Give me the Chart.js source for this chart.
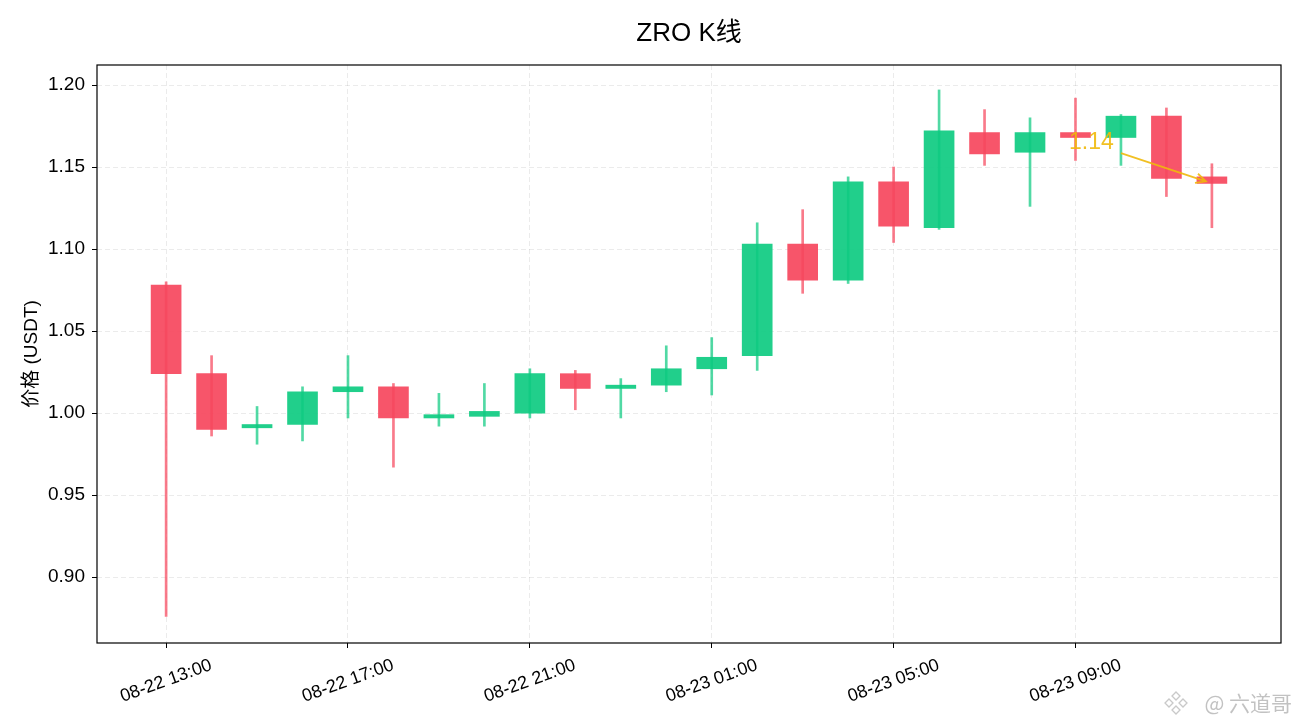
<!DOCTYPE html>
<html>
<head>
<meta charset="utf-8">
<script src="https://cdn.jsdelivr.net/npm/chart.js@4.4.0/dist/chart.umd.min.js"></script>
<style>
  html, body { margin: 0; padding: 0; background: #fff; }
  #myCanvas { display: block; }
</style>
</head>
<body>
<canvas id="myCanvas" width="1300" height="728"></canvas>
<script>
// hourly candles, 08-22 13:00 .. 08-23 12:00
const times = [
    '08-22 13:00', '08-22 14:00', '08-22 15:00', '08-22 16:00', '08-22 17:00', '08-22 18:00',
    '08-22 19:00', '08-22 20:00', '08-22 21:00', '08-22 22:00', '08-22 23:00', '08-23 00:00',
    '08-23 01:00', '08-23 02:00', '08-23 03:00', '08-23 04:00', '08-23 05:00', '08-23 06:00',
    '08-23 07:00', '08-23 08:00', '08-23 09:00', '08-23 10:00', '08-23 11:00', '08-23 12:00'
];
const opens  = [1.078, 1.024, 0.991, 0.993, 1.013, 1.016, 0.997, 0.998, 1.000, 1.024, 1.015, 1.017,
                1.027, 1.035, 1.103, 1.081, 1.141, 1.113, 1.171, 1.159, 1.171, 1.168, 1.181, 1.144];
const closes = [1.024, 0.990, 0.993, 1.013, 1.016, 0.997, 0.999, 1.001, 1.024, 1.015, 1.017, 1.027,
                1.034, 1.103, 1.081, 1.141, 1.114, 1.172, 1.158, 1.171, 1.168, 1.181, 1.143, 1.140];
const highs  = [1.080, 1.035, 1.004, 1.016, 1.035, 1.018, 1.012, 1.018, 1.027, 1.026, 1.021, 1.041,
                1.046, 1.116, 1.124, 1.144, 1.150, 1.197, 1.185, 1.180, 1.192, 1.182, 1.186, 1.152];
const lows   = [0.876, 0.986, 0.981, 0.983, 0.997, 0.967, 0.992, 0.992, 0.997, 1.002, 0.997, 1.013,
                1.011, 1.026, 1.073, 1.079, 1.104, 1.112, 1.151, 1.126, 1.154, 1.151, 1.132, 1.113];

const xTicks = [0, 4, 8, 12, 16, 20];
const yTicks = [0.90, 0.95, 1.00, 1.05, 1.10, 1.15, 1.20];

const chartTitle = 'ZRO K线';
const yTitle = '价格 (USDT)';
const noteText = '1.14';
const watermark = '@ 六道哥';

const UP = 'rgba(14, 203, 129, 0.92)';
const DOWN = 'rgba(246, 70, 93, 0.92)';
const UP_WICK = 'rgba(14, 203, 129, 0.72)';
const DOWN_WICK = 'rgba(246, 70, 93, 0.72)';
const NOTE = '#F0B90B';
const FONT = '"Liberation Sans", Arial, "Noto Sans CJK SC", sans-serif';

const bodies = times.map((t, i) => ({ x: i, y: [opens[i], closes[i]] }));
const wicks = times.map((t, i) => ({ x: i, y: [lows[i], highs[i]] }));
const isUp = i => closes[i] >= opens[i];

const framePlugin = {
    id: 'frame',
    afterDraw(chart) {
        const ctx = chart.ctx;
        const a = chart.chartArea;
        const xs = chart.scales.x;
        const ys = chart.scales.y;
        ctx.save();

        // box around the plot
        ctx.strokeStyle = '#000';
        ctx.lineWidth = 1.2;
        ctx.strokeRect(a.left, a.top, a.right - a.left, a.bottom - a.top);

        // title
        ctx.fillStyle = '#000';
        ctx.font = '26px ' + FONT;
        ctx.textAlign = 'center';
        ctx.textBaseline = 'middle';
        ctx.fillText(chartTitle, (a.left + a.right) / 2, 34);

        // rotated x tick labels, centred on the ticks
        ctx.font = '18px ' + FONT;
        xTicks.forEach(v => {
            const px = xs.getPixelForValue(v);
            ctx.save();
            ctx.translate(px, a.bottom + 38);
            ctx.rotate(-20 * Math.PI / 180);
            ctx.fillText(times[v], 0, 0);
            ctx.restore();
        });

        // last price note with arrow
        const last = closes.length - 1;
        const tx = xs.getPixelForValue(20.35);
        const ty = ys.getPixelForValue(1.1646);
        ctx.globalAlpha = 0.9;
        ctx.fillStyle = NOTE;
        ctx.font = '23px ' + FONT;
        ctx.fillText(noteText, tx, ty);
        const x0 = xs.getPixelForValue(21.0);
        const y0 = ys.getPixelForValue(1.1585);
        const x1 = xs.getPixelForValue(last) - 6;
        const y1 = ys.getPixelForValue(closes[last]) - 2;
        const ang = Math.atan2(y1 - y0, x1 - x0);
        ctx.strokeStyle = NOTE;
        ctx.lineWidth = 1.8;
        ctx.beginPath();
        ctx.moveTo(x0, y0);
        ctx.lineTo(x1, y1);
        ctx.moveTo(x1 - 11 * Math.cos(ang - 0.45), y1 - 11 * Math.sin(ang - 0.45));
        ctx.lineTo(x1, y1);
        ctx.lineTo(x1 - 11 * Math.cos(ang + 0.45), y1 - 11 * Math.sin(ang + 0.45));
        ctx.stroke();

        // watermark
        ctx.globalAlpha = 1;
        ctx.fillStyle = 'rgba(120, 120, 120, 0.45)';
        ctx.font = '21px "Noto Sans CJK SC", sans-serif';
        ctx.textAlign = 'right';
        ctx.fillText(watermark, 1292, 703);
        ctx.strokeStyle = 'rgba(120, 120, 120, 0.4)';
        ctx.lineWidth = 1.3;
        const cx = 1176, cy = 703;
        [[0, -7], [-7, 0], [7, 0], [0, 7]].forEach(d => {
            ctx.beginPath();
            ctx.moveTo(cx + d[0], cy + d[1] - 4);
            ctx.lineTo(cx + d[0] + 4, cy + d[1]);
            ctx.lineTo(cx + d[0], cy + d[1] + 4);
            ctx.lineTo(cx + d[0] - 4, cy + d[1]);
            ctx.closePath();
            ctx.stroke();
        });
        ctx.restore();
    }
};

const myCanvas = document.getElementById('myCanvas').getContext('2d');
window.myChart = new Chart(myCanvas, {
    type: 'bar',
    data: {
        datasets: [{
            label: 'body',
            data: bodies,
            backgroundColor: ctx => isUp(ctx.dataIndex) ? UP : DOWN,
            borderWidth: 0,
            barThickness: 30,
            grouped: false,
            order: 0
        }, {
            label: 'wick',
            data: wicks,
            backgroundColor: ctx => isUp(ctx.dataIndex) ? UP_WICK : DOWN_WICK,
            borderWidth: 0,
            barThickness: 2,
            grouped: false,
            order: 1
        }]
    },
    options: {
        responsive: false,
        animation: false,
        devicePixelRatio: 1,
        layout: { padding: { top: 65, right: 19, left: 0, bottom: 0 } },
        plugins: {
            legend: { display: false },
            tooltip: { enabled: false },
            title: { display: false }
        },
        scales: {
            x: {
                type: 'linear',
                min: -1.52,
                max: 24.52,
                offset: false,
                afterBuildTicks: scale => { scale.ticks = xTicks.map(v => ({ value: v })); },
                afterFit: scale => { scale.height = 85; },
                ticks: { display: false },
                grid: {
                    offset: false,
                    color: 'rgba(0, 0, 0, 0.08)',
                    tickColor: '#000',
                    tickLength: 5,
                    drawTicks: true
                },
                border: { display: false, dash: [5, 3] }
            },
            y: {
                min: 0.8598,
                max: 1.2122,
                afterBuildTicks: scale => { scale.ticks = yTicks.map(v => ({ value: v })); },
                afterFit: scale => { scale.width = 97; },
                ticks: {
                    color: '#000',
                    padding: 7,
                    font: { size: 19, family: FONT },
                    callback: v => v.toFixed(2)
                },
                grid: {
                    offset: false,
                    color: 'rgba(0, 0, 0, 0.08)',
                    tickColor: '#000',
                    tickLength: 5,
                    drawTicks: true
                },
                border: { display: false, dash: [5, 3] },
                title: {
                    display: true,
                    text: yTitle,
                    color: '#000',
                    font: { size: 19, family: FONT },
                    padding: { top: 20, bottom: 0 }
                }
            }
        }
    },
    plugins: [framePlugin]
});
</script>
</body>
</html>
